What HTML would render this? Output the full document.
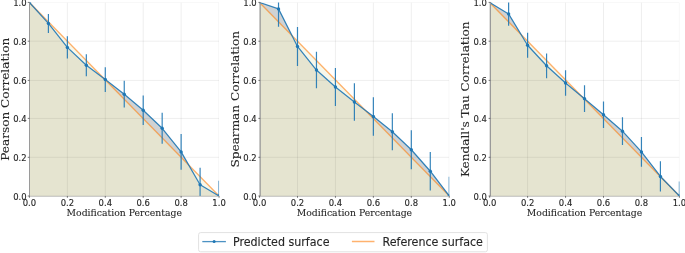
<!DOCTYPE html>
<html><head><meta charset="utf-8"><style>
html,body{margin:0;padding:0;background:#fff;overflow:hidden;}
svg{display:block;}
</style></head><body>
<svg width="685" height="253" viewBox="0 0 685 253">
<rect width="685" height="253" fill="#fff"/>
<clipPath id="clip0"><rect x="29.1" y="2.5" width="189.95" height="193.5"/></clipPath>
<g clip-path="url(#clip0)">
<polygon points="29.45,2.5 48.41,23.4 67.37,47.39 86.33,65.19 103.83,78.41 105.29,79.51 124.25,94.22 143.21,110.28 162.17,128.28 181.13,151.88 188.71,165.04 200.09,184.78 219.05,196 219.05,196 29.45,196" fill="#e5e4d0"/>
<polygon points="29.45,2.5 48.41,21.85 67.37,41.2 86.33,60.55 103.83,78.41 105.29,79.51 124.25,94.22 143.21,110.28 162.17,128.28 181.13,151.88 188.71,165.04 200.09,176.65 219.05,196 219.05,196 200.09,184.78 188.71,165.04 181.13,151.88 162.17,128.28 143.21,110.28 124.25,94.22 105.29,79.51 103.83,78.41 86.33,65.19 67.37,47.39 48.41,23.4 29.45,2.5" fill="#f7f8eb"/>
<polygon points="29.45,2.5 48.41,23.4 67.37,47.39 86.33,65.19 103.83,78.41 105.29,79.51 124.25,94.22 143.21,110.28 162.17,128.28 181.13,151.88 188.71,165.04 200.09,184.78 219.05,196 219.05,196 200.09,184.78 188.71,165.04 181.13,157.3 162.17,137.95 143.21,118.6 124.25,99.25 105.29,79.9 103.83,78.41 86.33,65.19 67.37,47.39 48.41,23.4 29.45,2.5" fill="#cfd2d4"/>
<path d="M29.45 196V2.5M29.45 196H219.05M67.37 196V2.5M29.45 157.3H219.05M105.29 196V2.5M29.45 118.4H219.05M143.21 196V2.5M29.45 80.4H219.05M181.13 196V2.5M29.45 41.2H219.05M219.05 196V2.5M29.45 2.4H219.05" stroke="#000" stroke-opacity="0.075" stroke-width="0.9" fill="none"/>
<path d="M29.45 2.5L219.05 196" stroke="#ff7f0e" stroke-opacity="0.6" stroke-width="1.3" fill="none"/>
<path d="M29.45 2.5L48.41 23.4L67.37 47.39L86.33 65.19L105.29 79.51L124.25 94.22L143.21 110.28L162.17 128.28L181.13 151.88L200.09 184.78L219.05 196" stroke="#1f77b4" stroke-opacity="0.9" stroke-width="1.25" fill="none" stroke-linejoin="round"/>
<path d="M48.41 32.88V13.92M67.37 58.62V36.17M86.33 76.22V54.16M105.29 91.9V67.13M124.25 107.57V80.87M143.21 124.99V95.57M162.17 143.75V112.8M181.13 169.68V134.08M200.09 201.81V167.75M219.05 211.29V180.71" stroke="#1f77b4" stroke-opacity="0.9" stroke-width="1.2" fill="none"/>
<circle cx="29.45" cy="2.5" r="1.7" fill="#1f77b4"/>
<circle cx="48.41" cy="23.4" r="1.7" fill="#1f77b4"/>
<circle cx="67.37" cy="47.39" r="1.7" fill="#1f77b4"/>
<circle cx="86.33" cy="65.19" r="1.7" fill="#1f77b4"/>
<circle cx="105.29" cy="79.51" r="1.7" fill="#1f77b4"/>
<circle cx="124.25" cy="94.22" r="1.7" fill="#1f77b4"/>
<circle cx="143.21" cy="110.28" r="1.7" fill="#1f77b4"/>
<circle cx="162.17" cy="128.28" r="1.7" fill="#1f77b4"/>
<circle cx="181.13" cy="151.88" r="1.7" fill="#1f77b4"/>
<circle cx="200.09" cy="184.78" r="1.7" fill="#1f77b4"/>
<circle cx="219.05" cy="196" r="1.7" fill="#1f77b4"/>
</g>
<path d="M29.5 2.5V196" stroke="#9a9a9a" stroke-width="1.0" fill="none"/>
<path d="M29.45 196.4H219.05" stroke="#c6c6c4" stroke-width="1" fill="none"/>
<path d="M29.45 196v1.75M29.5 196h-1.75M67.37 196v1.75M29.5 157.3h-1.75M105.29 196v1.75M29.5 118.4h-1.75M143.21 196v1.75M29.5 80.4h-1.75M181.13 196v1.75M29.5 41.2h-1.75M219.05 196v1.75M29.5 2.4h-1.75" stroke="#555" stroke-width="0.8" fill="none"/>
<g font-family="DejaVu Sans" font-size="8.45" fill="#262626" stroke="#262626" stroke-width="0.12"><text x="29.45" y="205.9" text-anchor="middle">0.0</text><text x="26.6" y="199.8" text-anchor="end">0.0</text><text x="67.37" y="205.9" text-anchor="middle">0.2</text><text x="26.6" y="161.1" text-anchor="end">0.2</text><text x="105.29" y="205.9" text-anchor="middle">0.4</text><text x="26.6" y="122.2" text-anchor="end">0.4</text><text x="143.21" y="205.9" text-anchor="middle">0.6</text><text x="26.6" y="84.2" text-anchor="end">0.6</text><text x="181.13" y="205.9" text-anchor="middle">0.8</text><text x="26.6" y="45" text-anchor="end">0.8</text><text x="219.05" y="205.9" text-anchor="middle">1.0</text><text x="26.6" y="6.2" text-anchor="end">1.0</text></g>
<text x="124.25" y="215.7" text-anchor="middle" font-family="DejaVu Serif" font-size="9.3" fill="#262626" stroke="#262626" stroke-width="0.1">Modification Percentage</text>
<text transform="translate(9.2 99.25) rotate(-90) scale(1 0.9)" x="0" y="0" text-anchor="middle" font-family="DejaVu Serif" font-size="12.1" fill="#262626" stroke="#262626" stroke-width="0.1">Pearson Correlation</text>
<clipPath id="clip1"><rect x="259.75" y="2.5" width="189.5" height="193.5"/></clipPath>
<g clip-path="url(#clip1)">
<polygon points="259.55,2.5 278.52,8.89 292.04,35.64 297.49,46.42 316.46,70.03 335.43,87.06 354.4,101.96 365.02,110.09 373.37,116.47 392.34,131.76 411.31,149.75 430.28,171.23 449.25,196 449.25,196 259.55,196" fill="#e5e4d0"/>
<polygon points="259.55,2.5 278.52,8.89 292.04,35.64 297.49,41.2 316.46,60.55 335.43,79.9 354.4,99.25 365.02,110.09 373.37,116.47 392.34,131.76 411.31,149.75 430.28,171.23 449.25,196 449.25,196 430.28,171.23 411.31,149.75 392.34,131.76 373.37,116.47 365.02,110.09 354.4,101.96 335.43,87.06 316.46,70.03 297.49,46.42 292.04,35.64 278.52,8.89 259.55,2.5" fill="#f7f8eb"/>
<polygon points="259.55,2.5 278.52,8.89 292.04,35.64 297.49,46.42 316.46,70.03 335.43,87.06 354.4,101.96 365.02,110.09 373.37,116.47 392.34,131.76 411.31,149.75 430.28,171.23 449.25,196 449.25,196 430.28,176.65 411.31,157.3 392.34,137.95 373.37,118.6 365.02,110.09 354.4,101.96 335.43,87.06 316.46,70.03 297.49,46.42 292.04,35.64 278.52,21.85 259.55,2.5" fill="#cfd2d4"/>
<path d="M259.55 196V2.5M259.55 196H449.25M297.49 196V2.5M259.55 157.3H449.25M335.43 196V2.5M259.55 118.4H449.25M373.37 196V2.5M259.55 80.4H449.25M411.31 196V2.5M259.55 41.2H449.25M449.25 196V2.5M259.55 2.4H449.25" stroke="#000" stroke-opacity="0.075" stroke-width="0.9" fill="none"/>
<path d="M259.55 2.5L449.25 196" stroke="#ff7f0e" stroke-opacity="0.6" stroke-width="1.3" fill="none"/>
<path d="M259.55 2.5L278.52 8.89L297.49 46.42L316.46 70.03L335.43 87.06L354.4 101.96L373.37 116.47L392.34 131.76L411.31 149.75L430.28 171.23L449.25 196" stroke="#1f77b4" stroke-opacity="0.9" stroke-width="1.25" fill="none" stroke-linejoin="round"/>
<path d="M278.52 26.69V-8.92M297.49 65.97V26.88M316.46 88.22V51.84M335.43 106.02V68.1M354.4 120.73V83.19M373.37 135.63V97.31M392.34 150.33V113.18M411.31 169.3V130.21M430.28 190.58V151.88M449.25 215.16V176.84" stroke="#1f77b4" stroke-opacity="0.9" stroke-width="1.2" fill="none"/>
<circle cx="259.55" cy="2.5" r="1.7" fill="#1f77b4"/>
<circle cx="278.52" cy="8.89" r="1.7" fill="#1f77b4"/>
<circle cx="297.49" cy="46.42" r="1.7" fill="#1f77b4"/>
<circle cx="316.46" cy="70.03" r="1.7" fill="#1f77b4"/>
<circle cx="335.43" cy="87.06" r="1.7" fill="#1f77b4"/>
<circle cx="354.4" cy="101.96" r="1.7" fill="#1f77b4"/>
<circle cx="373.37" cy="116.47" r="1.7" fill="#1f77b4"/>
<circle cx="392.34" cy="131.76" r="1.7" fill="#1f77b4"/>
<circle cx="411.31" cy="149.75" r="1.7" fill="#1f77b4"/>
<circle cx="430.28" cy="171.23" r="1.7" fill="#1f77b4"/>
<circle cx="449.25" cy="196" r="1.7" fill="#1f77b4"/>
</g>
<path d="M260.15 2.5V196" stroke="#9a9a9a" stroke-width="1.3" fill="none"/>
<path d="M259.55 196.4H449.25" stroke="#c6c6c4" stroke-width="1" fill="none"/>
<path d="M259.55 196v1.75M260.15 196h-1.75M297.49 196v1.75M260.15 157.3h-1.75M335.43 196v1.75M260.15 118.4h-1.75M373.37 196v1.75M260.15 80.4h-1.75M411.31 196v1.75M260.15 41.2h-1.75M449.25 196v1.75M260.15 2.4h-1.75" stroke="#555" stroke-width="0.8" fill="none"/>
<g font-family="DejaVu Sans" font-size="8.45" fill="#262626" stroke="#262626" stroke-width="0.12"><text x="259.55" y="205.9" text-anchor="middle">0.0</text><text x="256.7" y="199.8" text-anchor="end">0.0</text><text x="297.49" y="205.9" text-anchor="middle">0.2</text><text x="256.7" y="161.1" text-anchor="end">0.2</text><text x="335.43" y="205.9" text-anchor="middle">0.4</text><text x="256.7" y="122.2" text-anchor="end">0.4</text><text x="373.37" y="205.9" text-anchor="middle">0.6</text><text x="256.7" y="84.2" text-anchor="end">0.6</text><text x="411.31" y="205.9" text-anchor="middle">0.8</text><text x="256.7" y="45" text-anchor="end">0.8</text><text x="449.25" y="205.9" text-anchor="middle">1.0</text><text x="256.7" y="6.2" text-anchor="end">1.0</text></g>
<text x="354.4" y="215.7" text-anchor="middle" font-family="DejaVu Serif" font-size="9.3" fill="#262626" stroke="#262626" stroke-width="0.1">Modification Percentage</text>
<text transform="translate(239.3 99.25) rotate(-90) scale(1 0.9)" x="0" y="0" text-anchor="middle" font-family="DejaVu Serif" font-size="12.1" fill="#262626" stroke="#262626" stroke-width="0.1">Spearman Correlation</text>
<clipPath id="clip2"><rect x="489.95" y="2.5" width="189.45" height="193.5"/></clipPath>
<g clip-path="url(#clip2)">
<polygon points="489.65,2.5 508.62,13.92 521.17,34.65 527.6,45.26 546.57,65.77 565.55,83 581.53,96.19 584.52,98.67 603.5,114.73 622.47,131.18 641.45,151.88 660.42,176.46 679.4,196 679.4,196 489.65,196" fill="#e5e4d0"/>
<polygon points="489.65,2.5 508.62,13.92 521.17,34.65 527.6,41.2 546.57,60.55 565.55,79.9 581.53,96.19 584.52,98.67 603.5,114.73 622.47,131.18 641.45,151.88 660.42,176.46 679.4,196 679.4,196 660.42,176.46 641.45,151.88 622.47,131.18 603.5,114.73 584.52,98.67 581.53,96.19 565.55,83 546.57,65.77 527.6,45.26 521.17,34.65 508.62,13.92 489.65,2.5" fill="#f7f8eb"/>
<polygon points="489.65,2.5 508.62,13.92 521.17,34.65 527.6,45.26 546.57,65.77 565.55,83 581.53,96.19 584.52,98.67 603.5,114.73 622.47,131.18 641.45,151.88 660.42,176.46 679.4,196 679.4,196 660.42,176.65 641.45,157.3 622.47,137.95 603.5,118.6 584.52,99.25 581.53,96.19 565.55,83 546.57,65.77 527.6,45.26 521.17,34.65 508.62,21.85 489.65,2.5" fill="#cfd2d4"/>
<path d="M489.65 196V2.5M489.65 196H679.4M527.6 196V2.5M489.65 157.3H679.4M565.55 196V2.5M489.65 118.4H679.4M603.5 196V2.5M489.65 80.4H679.4M641.45 196V2.5M489.65 41.2H679.4M679.4 196V2.5M489.65 2.4H679.4" stroke="#000" stroke-opacity="0.075" stroke-width="0.9" fill="none"/>
<path d="M489.65 2.5L679.4 196" stroke="#ff7f0e" stroke-opacity="0.6" stroke-width="1.3" fill="none"/>
<path d="M489.65 2.5L508.62 13.92L527.6 45.26L546.57 65.77L565.55 83L584.52 98.67L603.5 114.73L622.47 131.18L641.45 151.88L660.42 176.46L679.4 196" stroke="#1f77b4" stroke-opacity="0.9" stroke-width="1.25" fill="none" stroke-linejoin="round"/>
<path d="M508.62 25.72V2.11M527.6 57.84V32.69M546.57 78.16V53.39M565.55 95.77V70.23M584.52 112.02V85.32M603.5 128.08V101.38M622.47 145.11V117.25M641.45 166.78V136.98M660.42 191.55V161.36M679.4 210.51V181.49" stroke="#1f77b4" stroke-opacity="0.9" stroke-width="1.2" fill="none"/>
<circle cx="489.65" cy="2.5" r="1.7" fill="#1f77b4"/>
<circle cx="508.62" cy="13.92" r="1.7" fill="#1f77b4"/>
<circle cx="527.6" cy="45.26" r="1.7" fill="#1f77b4"/>
<circle cx="546.57" cy="65.77" r="1.7" fill="#1f77b4"/>
<circle cx="565.55" cy="83" r="1.7" fill="#1f77b4"/>
<circle cx="584.52" cy="98.67" r="1.7" fill="#1f77b4"/>
<circle cx="603.5" cy="114.73" r="1.7" fill="#1f77b4"/>
<circle cx="622.47" cy="131.18" r="1.7" fill="#1f77b4"/>
<circle cx="641.45" cy="151.88" r="1.7" fill="#1f77b4"/>
<circle cx="660.42" cy="176.46" r="1.7" fill="#1f77b4"/>
<circle cx="679.4" cy="196" r="1.7" fill="#1f77b4"/>
</g>
<path d="M490.35 2.5V196" stroke="#9a9a9a" stroke-width="1.3" fill="none"/>
<path d="M489.65 196.4H679.4" stroke="#c6c6c4" stroke-width="1" fill="none"/>
<path d="M489.65 196v1.75M490.35 196h-1.75M527.6 196v1.75M490.35 157.3h-1.75M565.55 196v1.75M490.35 118.4h-1.75M603.5 196v1.75M490.35 80.4h-1.75M641.45 196v1.75M490.35 41.2h-1.75M679.4 196v1.75M490.35 2.4h-1.75" stroke="#555" stroke-width="0.8" fill="none"/>
<g font-family="DejaVu Sans" font-size="8.45" fill="#262626" stroke="#262626" stroke-width="0.12"><text x="489.65" y="205.9" text-anchor="middle">0.0</text><text x="486.8" y="199.8" text-anchor="end">0.0</text><text x="527.6" y="205.9" text-anchor="middle">0.2</text><text x="486.8" y="161.1" text-anchor="end">0.2</text><text x="565.55" y="205.9" text-anchor="middle">0.4</text><text x="486.8" y="122.2" text-anchor="end">0.4</text><text x="603.5" y="205.9" text-anchor="middle">0.6</text><text x="486.8" y="84.2" text-anchor="end">0.6</text><text x="641.45" y="205.9" text-anchor="middle">0.8</text><text x="486.8" y="45" text-anchor="end">0.8</text><text x="679.4" y="205.9" text-anchor="middle">1.0</text><text x="486.8" y="6.2" text-anchor="end">1.0</text></g>
<text x="584.52" y="215.7" text-anchor="middle" font-family="DejaVu Serif" font-size="9.3" fill="#262626" stroke="#262626" stroke-width="0.1">Modification Percentage</text>
<text transform="translate(469.4 99.25) rotate(-90) scale(1 0.9)" x="0" y="0" text-anchor="middle" font-family="DejaVu Serif" font-size="12.1" fill="#262626" stroke="#262626" stroke-width="0.1">Kendall's Tau Correlation</text>
<rect x="198.6" y="232.6" width="288.8" height="19.2" rx="2" ry="2" fill="#fff" stroke="#e2e2e2" stroke-width="1"/>
<path d="M202.3 241.6H225.9" stroke="#1f77b4" stroke-opacity="0.8" stroke-width="1.3"/>
<circle cx="214.1" cy="241.6" r="1.5" fill="#1f77b4"/>
<path d="M351.9 241.5H374.5" stroke="#ff7f0e" stroke-opacity="0.6" stroke-width="1.5"/>
<g font-family="DejaVu Sans" font-size="11.1" fill="#262626" stroke="#262626" stroke-width="0.12"><text transform="translate(0 245.8) scale(1 1.045)" x="232.89" y="0">Predicted surface</text><text transform="translate(0 245.8) scale(1 1.045)" x="382.49" y="0">Reference surface</text></g>
</svg>
</body></html>
